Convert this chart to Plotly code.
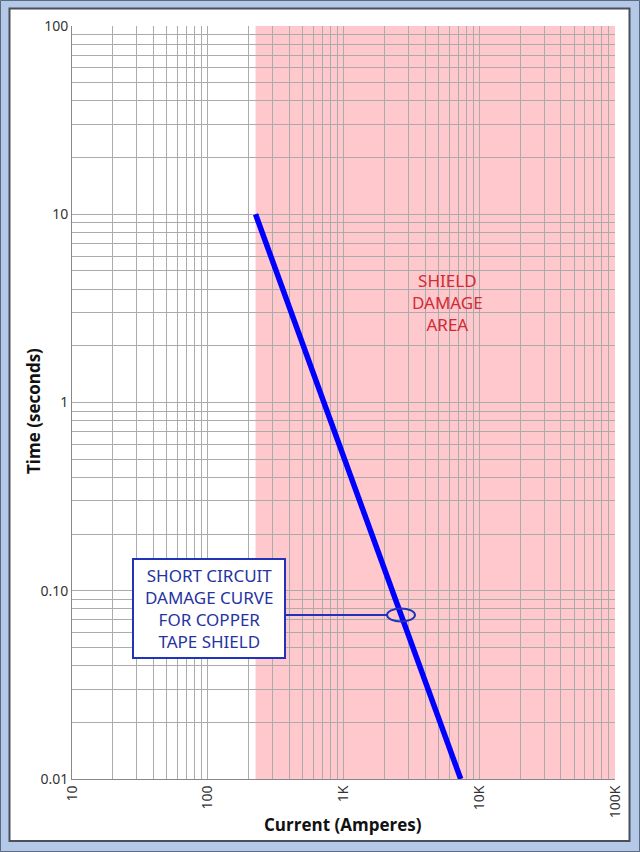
import plotly.graph_objects as go

# Data
curve_current = [225, 7300]       # Amperes
curve_time = [10, 0.01]           # seconds
damage_area_x = [225, 100000]
damage_area_y = [0.01, 100]
x_tickvals = [10, 100, 1000, 10000, 100000]
x_ticktext = ["10", "100", "1K", "10K", "100K"]
y_tickvals = [100, 10, 1, 0.1, 0.01]
y_ticktext = ["100", "10", "1", "0.10", "0.01"]
marker_point = (2630, 0.0743)

W, H = 640, 852
L, R, T, B = 72, 25, 26, 73
PW, PH = W - L - R, H - T - B

def px_to_paper_x(px):
    return (px - L) / PW

def px_to_paper_y(py):
    return (H - B - py) / PH

fig = go.Figure()

fig.add_trace(go.Scatter(
    x=curve_current, y=curve_time, mode="lines",
    line=dict(color="#0000ff", width=5.5), hoverinfo="skip", showlegend=False))

grid_color = "#ababab"
fig.update_xaxes(
    type="log", range=[1, 5], tickvals=x_tickvals, ticktext=x_ticktext,
    tickangle=-90, showgrid=True, gridcolor=grid_color, gridwidth=1,
    minor=dict(dtick="D1", showgrid=True, gridcolor=grid_color, gridwidth=1),
    showline=True, linecolor="#888888", linewidth=1, zeroline=False,
    ticks="", tickfont=dict(family="Noto Sans", size=14, color="#333333"))
fig.update_yaxes(
    type="log", range=[-2, 2], tickvals=y_tickvals, ticktext=y_ticktext,
    showgrid=True, gridcolor=grid_color, gridwidth=1,
    minor=dict(dtick="D1", showgrid=True, gridcolor=grid_color, gridwidth=1),
    showline=True, linecolor="#888888", linewidth=1, zeroline=False,
    ticks="", tickfont=dict(family="Noto Sans", size=14, color="#333333"))

shapes = []
# page frame
shapes.append(dict(type="rect", xref="paper", yref="paper",
                   x0=px_to_paper_x(0.5), x1=px_to_paper_x(639.5),
                   y0=px_to_paper_y(851.5), y1=px_to_paper_y(0.5),
                   line=dict(color="#5a6a80", width=1), fillcolor="rgba(0,0,0,0)", layer="below"))
shapes.append(dict(type="rect", xref="paper", yref="paper",
                   x0=px_to_paper_x(9.5), x1=px_to_paper_x(629.5),
                   y0=px_to_paper_y(841), y1=px_to_paper_y(8.5),
                   line=dict(color="#4a4f5a", width=2), fillcolor="white", layer="below"))
# damage area
shapes.append(dict(type="rect", xref="x", yref="y",
                   x0=damage_area_x[0], x1=damage_area_x[1],
                   y0=damage_area_y[0], y1=damage_area_y[1],
                   line=dict(width=0), fillcolor="#ffc8cc", layer="below"))
# connector line from label box to curve marker
box_x0, box_x1, box_y0, box_y1 = 133, 285, 559, 658
shapes.append(dict(type="line", xref="paper", yref="y",
                   x0=px_to_paper_x(box_x1), x1=px_to_paper_x(387),
                   y0=marker_point[1], y1=marker_point[1],
                   line=dict(color="#2233bb", width=2)))
# ellipse around the curve
shapes.append(dict(type="circle", xref="paper", yref="paper",
                   x0=px_to_paper_x(387), x1=px_to_paper_x(415),
                   y0=px_to_paper_y(621.5), y1=px_to_paper_y(608.5),
                   line=dict(color="#2233bb", width=2), fillcolor="rgba(0,0,0,0)"))
# label box
shapes.append(dict(type="rect", xref="paper", yref="paper",
                   x0=px_to_paper_x(box_x0), x1=px_to_paper_x(box_x1),
                   y0=px_to_paper_y(box_y1), y1=px_to_paper_y(box_y0),
                   line=dict(color="#2233bb", width=2), fillcolor="white"))

annotations = [
    dict(text="SHORT CIRCUIT<br>DAMAGE CURVE<br>FOR COPPER<br>TAPE SHIELD",
         xref="paper", yref="paper", x=px_to_paper_x((box_x0 + box_x1) / 2),
         y=px_to_paper_y((box_y0 + box_y1) / 2), showarrow=False,
         font=dict(family="Noto Sans", size=17, color="#2633a0"),
         xanchor="center", yanchor="middle"),
    dict(text="SHIELD<br>DAMAGE<br>AREA", xref="paper", yref="paper",
         x=px_to_paper_x(447), y=px_to_paper_y(302), showarrow=False,
         font=dict(family="Noto Sans", size=17, color="#d42a35"),
         xanchor="center", yanchor="middle"),
    dict(text="<b>Current (Amperes)</b>", xref="paper", yref="paper",
         x=px_to_paper_x(343), y=px_to_paper_y(824), showarrow=False,
         font=dict(family="Open Sans", size=17, color="#111111"),
         xanchor="center", yanchor="middle"),
    dict(text="<b>Time (seconds)</b>", xref="paper", yref="paper",
         x=px_to_paper_x(33), y=px_to_paper_y(411), showarrow=False, textangle=-90,
         font=dict(family="Open Sans", size=17, color="#111111"),
         xanchor="center", yanchor="middle"),
]

fig.update_layout(
    width=W, height=H, margin=dict(l=L, r=R, t=T, b=B),
    paper_bgcolor="#b4c9e8", plot_bgcolor="white",
    shapes=shapes, annotations=annotations, showlegend=False)

fig.write_html("out.html")
